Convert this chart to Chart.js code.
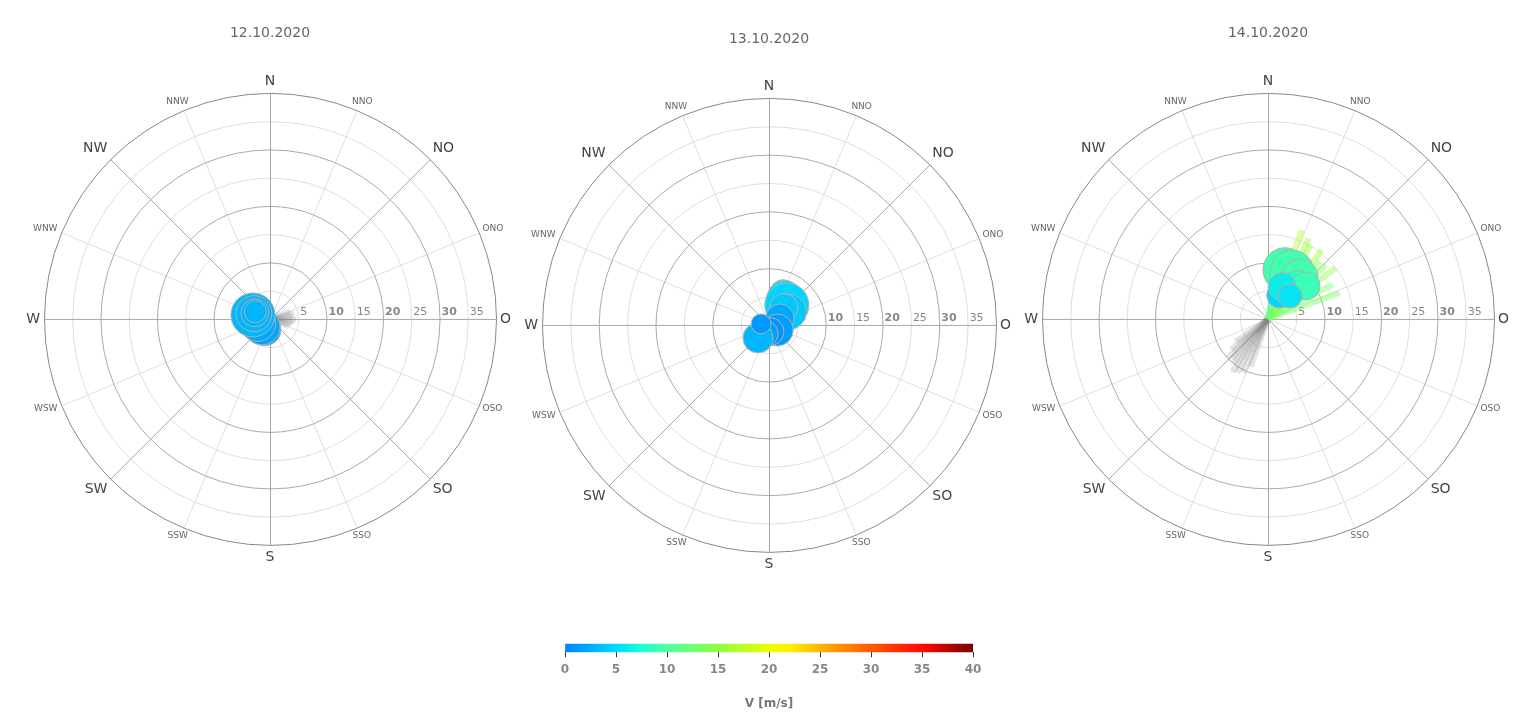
<!DOCTYPE html>
<html>
<head>
<meta charset="utf-8">
<script src="https://cdn.jsdelivr.net/npm/chart.js@4.4.1/dist/chart.umd.min.js"></script>
<style>
body{margin:0;background:#fff;width:1537px;height:724px;overflow:hidden;position:relative}
canvas{position:absolute}
</style>
</head>
<body>
<canvas id="rose1" style="left:20px;top:0px" width="500" height="569"></canvas>
<canvas id="rose2" style="left:518px;top:0px" width="502" height="576"></canvas>
<canvas id="rose3" style="left:1018px;top:0px" width="500" height="569"></canvas>
<canvas id="scale" style="left:540px;top:581px" width="458" height="130"></canvas>
<script>
const dirLabels = ['N','NNO','NO','ONO','O','OSO','SO','SSO','S','SSW','SW','WSW','W','WNW','NW','NNW'];
const ringValues = [5,10,15,20,25,30,35];
const maxSpeed = 40;
const days = ['12.10.2020','13.10.2020','14.10.2020'];

// bubbles: [direction deg, speed m/s, size]
const day1Points = [[205,2.1,16],[210,1.4,14],[225,2.0,18],[250,2.3,18],[283,3.1,22],[288,3.0,18],[292,2.9,14],[296,2.9,11]];
const day2Points = [[23.6,6.2,13],[31,5.4,18],[42,4.7,22],[55.6,4.1,18],[41,4.0,14],[57.6,2.3,14],[122,1.7,16],[172,1.2,14],[209,1.8,14],[220,3.0,15],[277,1.4,10]];
const day3Points = [[19.1,9.2,22],[27.1,9.3,22],[37.3,9.3,18],[41.5,8.0,15],[49.1,8.9,14],[26.3,4.7,13],[23.8,6.2,14],[43.8,5.6,12]];

// gust streaks: [direction deg, speed m/s]
const day1Trails = [[70,3.8],[78,4.4],[85,4.0],[92,4.6],[98,4.2],[105,3.9],[112,3.5]];
const day3Streaks = [[10,12.4],[15,8],[21,16.8],[27,16],[30,15],[34,10],[38,15.5],[42,13.7],[47,14],[53,15],[62,13],[70,13.5]];
const day3Trails = [[200,9],[205,10.5],[210,11],[214,11.3],[218,10],[222,9.5],[226,10],[230,8.5],[235,7]];

const colorStops = [
  [0,[0,128,255]],[5,[0,218,252]],[7.5,[30,255,210]],[10,[80,255,160]],[15,[140,255,70]],
  [20,[235,255,0]],[22,[255,240,0]],[25,[255,180,0]],[30,[255,90,0]],[35,[255,10,0]],[40,[120,0,0]]
];
const font = 'DejaVu Sans';

function colorAt(v, a) {
  for (let i = 1; i < colorStops.length; i++) {
    const [v0, c0] = colorStops[i-1], [v1, c1] = colorStops[i];
    if (v <= v1 || i === colorStops.length-1) {
      const t = Math.max(0, Math.min(1, (v - v0) / (v1 - v0)));
      const c = c0.map((x, j) => Math.round(x + (c1[j] - x) * t));
      return `rgba(${c[0]},${c[1]},${c[2]},${a})`;
    }
  }
}

function toXY(dir, spd) {
  const a = dir * Math.PI / 180;
  return { x: spd * Math.sin(a), y: spd * Math.cos(a) };
}

const polarGrid = {
  id: 'polarGrid',
  beforeDatasetsDraw(chart) {
    const { ctx, scales: { x, y } } = chart;
    const cx = x.getPixelForValue(0), cy = y.getPixelForValue(0);
    const k = x.getPixelForValue(1) - cx;
    const R = maxSpeed * k;
    ctx.save();
    ctx.translate(0.5, 0.5);
    ctx.lineWidth = 1;
    const spoke = (i) => {
      const a = i * 22.5 * Math.PI / 180;
      ctx.beginPath();
      ctx.moveTo(cx, cy);
      ctx.lineTo(cx + R * Math.sin(a), cy - R * Math.cos(a));
      ctx.stroke();
    };
    ctx.strokeStyle = '#dedede';
    dirLabels.forEach((l, i) => { if (i % 2) spoke(i); });
    ringValues.forEach(v => {
      ctx.strokeStyle = v % 10 ? '#dedede' : '#aaaaaa';
      ctx.beginPath();
      ctx.arc(cx, cy, v * k, 0, Math.PI * 2);
      ctx.stroke();
    });
    ctx.strokeStyle = '#a6a6a6';
    dirLabels.forEach((l, i) => { if (!(i % 2)) spoke(i); });
    ctx.strokeStyle = '#888888';
    ctx.beginPath();
    ctx.arc(cx, cy, R, 0, Math.PI * 2);
    ctx.stroke();
    ctx.restore();

    ctx.save();
    ctx.textAlign = 'center';
    ctx.textBaseline = 'middle';
    dirLabels.forEach((l, i) => {
      const main = i % 2 === 0;
      ctx.font = main ? `14px "${font}"` : `9px "${font}"`;
      ctx.fillStyle = main ? '#444444' : '#666666';
      const a = i * 22.5 * Math.PI / 180;
      const s = Math.sin(a), c = Math.cos(a);
      const w = ctx.measureText(l).width, h = main ? 16 : 9;
      const gap = 4;
      const m = Math.max(Math.abs(s), Math.abs(c));
      const px = cx + (R + gap) * s + (w / 2) * s / m;
      const py = cy - (R + gap) * c - (h / 2) * c / m;
      ctx.fillText(l, px, py);
    });
    ctx.textAlign = 'left';
    ctx.textBaseline = 'bottom';
    ctx.fillStyle = '#888888';
    ringValues.forEach(v => {
      ctx.font = (v % 10 ? '' : 'bold ') + `11px "${font}"`;
      ctx.fillText(String(v), cx + v * k + 2, cy - 1);
    });
    ctx.restore();
  }
};

function makeRose(id, title, points, streaks, trails, titlePad) {
  const datasets = [];
  trails.forEach(t => datasets.push({
    type: 'line', data: [{ x: 0, y: 0 }, toXY(t[0], t[1])],
    borderColor: 'rgba(120,120,120,0.2)', borderWidth: 6, borderCapStyle: 'butt',
    pointRadius: 0, order: 3
  }));
  streaks.forEach(t => datasets.push({
    type: 'line', data: [{ x: 0, y: 0 }, toXY(t[0], t[1])],
    borderColor: colorAt(t[1], 0.45), borderWidth: 6, borderCapStyle: 'butt',
    pointRadius: 0, order: 2
  }));
  datasets.push({
    type: 'bubble',
    data: points.map(p => ({ ...toXY(p[0], p[1]), r: p[2] })),
    backgroundColor: points.map(p => colorAt(p[1], 1)),
    borderColor: '#b0b0b0', borderWidth: 1, order: 1
  });
  new Chart(document.getElementById(id), {
    type: 'bubble',
    data: { datasets },
    options: {
      responsive: false,
      animation: false,
      layout: { padding: { left: 24, right: 24, top: 0, bottom: 24 } },
      plugins: {
        legend: { display: false },
        tooltip: { enabled: false },
        title: {
          display: true, text: title, color: '#666666',
          font: { family: font, size: 14, weight: 'normal' },
          padding: titlePad
        }
      },
      scales: {
        x: { type: 'linear', min: -maxSpeed, max: maxSpeed, display: false },
        y: { type: 'linear', min: -maxSpeed, max: maxSpeed, display: false }
      }
    },
    plugins: [polarGrid]
  });
}

makeRose('rose1', days[0], day1Points, [], day1Trails, { top: 25, bottom: 51 });
makeRose('rose2', days[1], day2Points, [], [], { top: 31, bottom: 50 });
makeRose('rose3', days[2], day3Points, day3Streaks, day3Trails, { top: 25, bottom: 51 });

// colour scale: one floating bar from 0 to maxSpeed, sitting on the x axis
new Chart(document.getElementById('scale'), {
  type: 'bar',
  data: {
    datasets: [{
      data: [{ x: [0, maxSpeed], y: 0 }],
      barThickness: 16, borderWidth: 0, clip: 0,
      backgroundColor: (c) => {
        const chart = c.chart, area = chart.chartArea;
        if (!area) return colorAt(0, 1);
        const g = chart.ctx.createLinearGradient(area.left, 0, area.right, 0);
        colorStops.forEach(s => g.addColorStop(s[0] / maxSpeed, colorAt(s[0], 1)));
        return g;
      }
    }]
  },
  options: {
    indexAxis: 'y',
    responsive: false,
    animation: false,
    layout: { padding: { left: 25, right: 25, top: 0, bottom: 0 } },
    plugins: { legend: { display: false }, tooltip: { enabled: false } },
    scales: {
      x: {
        type: 'linear', min: 0, max: maxSpeed,
        ticks: { stepSize: 5, color: '#888888', padding: 5, font: { family: font, size: 12, weight: 'bold' } },
        grid: { drawOnChartArea: false, tickLength: 5, tickColor: '#333333' },
        border: { display: false },
        title: { display: true, text: 'V [m/s]', color: '#777777', font: { family: font, size: 12, weight: 'bold' }, padding: { top: 15, bottom: 0 } }
      },
      y: { type: 'linear', min: 0, max: 1, offset: false, display: false }
    }
  }
});
</script>
</body>
</html>
